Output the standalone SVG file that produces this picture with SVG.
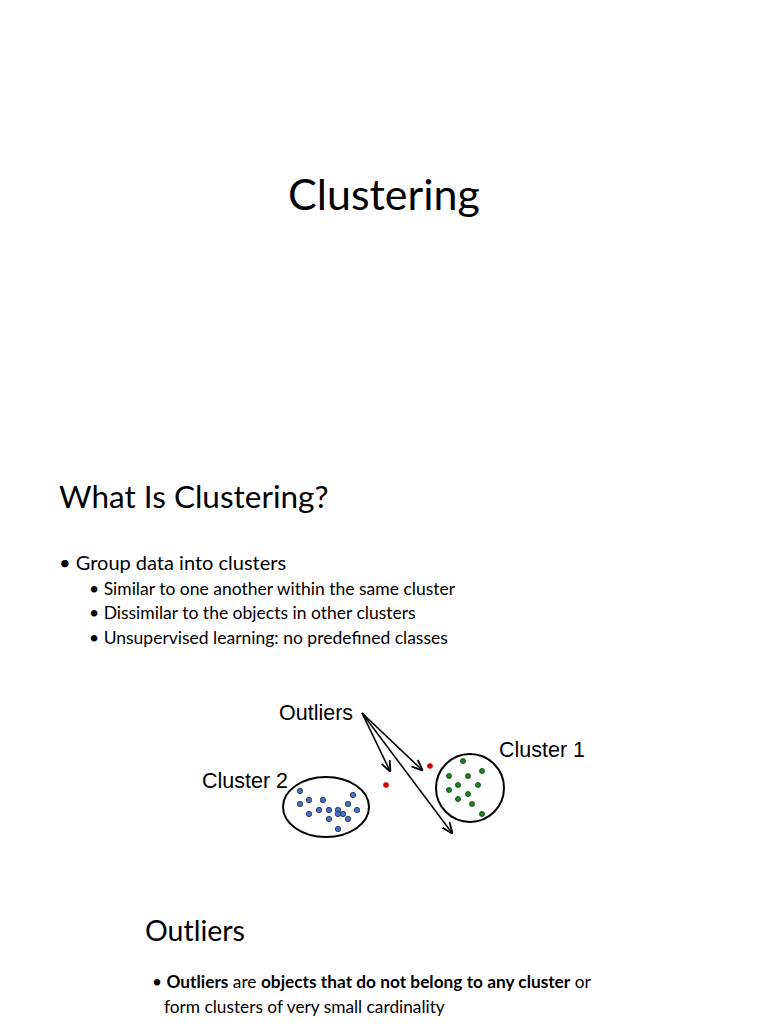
<svg xmlns="http://www.w3.org/2000/svg" width="768" height="1024" viewBox="0 0 768 1024">
<style>
.t{font-family:Lato,"Open Sans",sans-serif;fill:#000}
.a{font-family:"Liberation Sans",Arial,sans-serif;fill:#000;font-size:21.5px}
.b{fill:#4472c4;stroke:#1f2f50;stroke-width:0.8}
.g{fill:#1a8a1a;stroke:#0a3a0a;stroke-width:0.8}
.r{fill:#d00000}
.c{fill:none;stroke:#000;stroke-width:2}
.l{stroke:#000;stroke-width:1.6;fill:none;marker-end:url(#ah)}
</style>
<defs><marker id="ah" viewBox="0 0 10 10" refX="9" refY="5" markerWidth="7" markerHeight="7" orient="auto"><path d="M0,1 L10,5 L0,9" fill="none" stroke="#000" stroke-width="1.6"/></marker></defs>
<rect width="768" height="1024" fill="#fff"/>
<text class="t" x="384" y="210" font-size="43" text-anchor="middle">Clustering</text>
<text class="t" x="59" y="508" font-size="31.5">What Is Clustering?</text>
<text class="t" x="59" y="570" font-size="20">• Group data into clusters</text>
<text class="t" x="89" y="595" font-size="17.5">• Similar to one another within the same cluster</text>
<text class="t" x="89" y="619" font-size="17.5">• Dissimilar to the objects in other clusters</text>
<text class="t" x="89" y="644" font-size="17.5">• Unsupervised learning: no predefined classes</text>
<g id="label-outliers"><text class="a" x="279" y="720">Outliers</text></g>
<g id="label-c1"><text class="a" x="499" y="757">Cluster 1</text></g>
<g id="label-c2"><text class="a" x="202" y="788">Cluster 2</text></g>
<g id="cluster2"><ellipse class="c" cx="326" cy="807" rx="43" ry="30"/>
<g class="b"><circle cx="300" cy="791" r="2.7"/><circle cx="300" cy="804" r="2.7"/><circle cx="309" cy="800" r="2.7"/><circle cx="323" cy="800" r="2.7"/><circle cx="353" cy="795" r="2.7"/><circle cx="348" cy="804" r="2.7"/><circle cx="309" cy="814" r="2.7"/><circle cx="319" cy="810" r="2.7"/><circle cx="329" cy="810" r="2.7"/><circle cx="338" cy="810" r="2.7"/><circle cx="338" cy="814" r="2.7"/><circle cx="343" cy="814" r="2.7"/><circle cx="357" cy="810" r="2.7"/><circle cx="329" cy="819" r="2.7"/><circle cx="348" cy="819" r="2.7"/><circle cx="338" cy="829" r="2.7"/></g></g>
<g id="cluster1"><circle class="c" cx="470" cy="788" r="34"/>
<g class="g"><circle cx="463" cy="761" r="2.5"/><circle cx="449" cy="776" r="2.5"/><circle cx="468" cy="776" r="2.5"/><circle cx="482" cy="771" r="2.5"/><circle cx="458" cy="785" r="2.5"/><circle cx="478" cy="785" r="2.5"/><circle cx="449" cy="790" r="2.5"/><circle cx="468" cy="794" r="2.5"/><circle cx="458" cy="799" r="2.5"/><circle cx="472" cy="804" r="2.5"/><circle cx="482" cy="814" r="2.5"/></g></g>
<g id="outlier-points"><circle class="r" cx="386" cy="785" r="2.8"/><circle class="r" cx="430" cy="766" r="2.8"/></g>
<g id="connectors"><line class="l" x1="362" y1="713" x2="390" y2="771"/><line class="l" x1="362" y1="713" x2="422" y2="770"/><line class="l" x1="362" y1="713" x2="452" y2="833"/></g>
<text class="t" x="145" y="941" font-size="28.5">Outliers</text>
<text class="t" x="152" y="988" font-size="17.3">• <tspan font-weight="bold">Outliers</tspan> are <tspan font-weight="bold">objects that do not belong to any cluster</tspan> or</text>
<text class="t" x="164" y="1013" font-size="17.3">form clusters of very small cardinality</text>
</svg>
